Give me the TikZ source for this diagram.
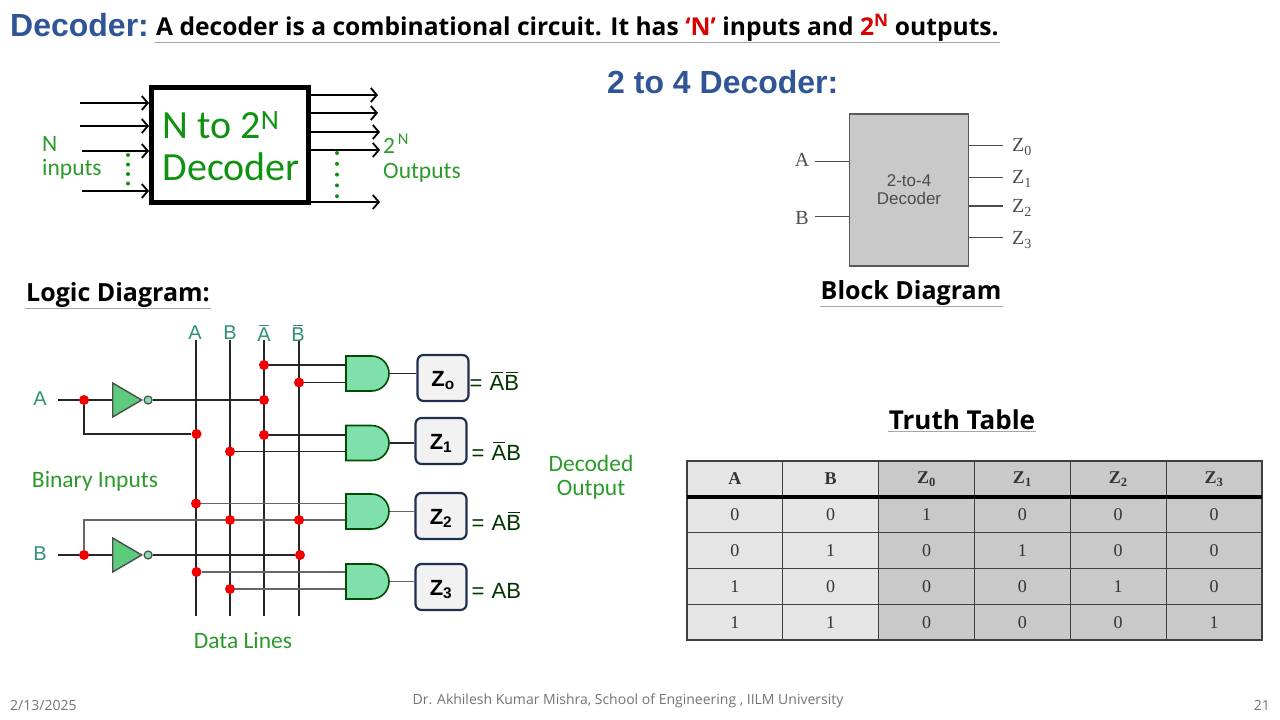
\documentclass[tikz,border=0pt]{standalone}
\usepackage{xcolor}
\usepackage{fontspec}
\setmainfont{Liberation Sans}
\newfontfamily\capfont{Open Sans}
\newfontfamily\footfont{Open Sans}
\newfontfamily\serfont{Liberation Serif}
\newfontfamily\greenfont{Carlito}
\usetikzlibrary{positioning,arrows.meta,backgrounds,shapes.misc,shapes.geometric}
\definecolor{headblue}{HTML}{2F5597}
\definecolor{leafgreen}{HTML}{0F920F}
\definecolor{labelgreen}{HTML}{2A9A2A}
\definecolor{tealtext}{HTML}{2F8F78}
\definecolor{gatefill}{HTML}{7FE0AC}
\definecolor{invfill}{HTML}{5CCB7C}
\definecolor{boxedge}{HTML}{1F2F4F}
\newcommand{\fsz}[1]{\fontsize{#1}{#1}\selectfont}
\newcommand{\barred}[1]{\sbox0{#1}\makebox[\wd0]{\rlap{\kern.1\wd0\rule[1.1\ht0]{.8\wd0}{.07em}}\usebox0}}
\tikzset{
  wire/.style={draw=black!85, line width=1.4pt},
  rail/.style={draw=black!85, line width=2.2pt},
  junction/.style={circle, fill=red!95!black, inner sep=0pt, minimum size=10pt},
  andgate/.style={rounded rectangle, rounded rectangle left arc=none, draw=black!70!green, line width=1.6pt, fill=gatefill, minimum width=43pt, minimum height=35pt, inner sep=0pt},
  invgate/.style={isosceles triangle, isosceles triangle stretches, shape border rotate=0, draw=black!70, line width=1.4pt, fill=invfill, minimum width=34pt, minimum height=29pt, inner sep=0pt, anchor=west},
  invdot/.style={circle, draw=black!70, line width=1.2pt, fill=gatefill, minimum size=8pt, inner sep=0pt},
  zbox/.style={draw=boxedge, line width=2.2pt, fill=black!5, rounded corners=6pt, minimum width=51pt, text height=16pt, text depth=0pt, font=\fsz{22}\bfseries},
  eqlabel/.style={anchor=west, font=\fsz{22}, text=black!80!green},
  toptag/.style={text=tealtext, font=\fsz{20}},
  greentext/.style={text=labelgreen, font=\greenfont\fsz{23.5}, align=center},
  barb/.style={line width=1.8pt, -{Straight Barb[length=6pt,width=14pt]}},
  dotline/.style={draw=leafgreen, line width=4pt, line cap=round, dash pattern=on .01pt off 9.5pt},
  heading/.style={text=headblue, font=\bfseries, inner sep=0pt},
  caption/.style={font=\capfont\bfseries\fsz{25}, inner sep=1pt},
  shelf/.style={draw=black!35, line width=1.2pt},
  lightcell/.style={draw=black!75, line width=1.2pt, fill=black!10, minimum width=95.83pt, minimum height=35.75pt, inner sep=0pt, outer sep=0pt, font=\serfont\fsz{18}, text=black!80},
  darkcell/.style={lightcell, fill=black!21},
  headcell/.style={minimum height=36pt, font=\serfont\bfseries\fsz{18}},
  foot/.style={text=black!55, font=\footfont\fsz{14}, inner sep=0pt},
  stub/.style={draw=black!70, line width=1.1pt},
  pinlabel/.style={text=black!70, font=\serfont\fsz{20}, inner sep=0pt}
}
\begin{document}
\begin{tikzpicture}[x=1pt,y=-1pt]
  \useasboundingbox (0,0) rectangle (1280,720);
  % titles
  \node[heading, anchor=west, font=\bfseries\fsz{32}] (title) at (10,25) {Decoder:};
  \node[caption, anchor=west, font=\capfont\bfseries\fsz{24.6}] (intro) at (155,28) {A decoder is a combinational circuit. It has \textcolor{red!85!black}{‘N’} inputs and \textcolor{red!85!black}{2\textsuperscript{N}} outputs.};
  \draw[shelf] (intro.south west) -- (intro.south east);
  \node[heading, anchor=west, font=\bfseries\fsz{32}] (subtitle) at (607,82) {2 to 4 Decoder:};

  % general decoder
  \node[draw, line width=5pt, minimum width=157pt, minimum height=115pt, inner sep=0pt] (gen) at (230,145) {};
  \node[text=leafgreen, font=\greenfont\fsz{40}, align=left, anchor=west] (gentext) at (159,146.5) {N to 2\textsuperscript{N}\\[2pt]Decoder};
  \coordinate (i1) at (80,103);
  \coordinate (i2) at (80,126);
  \coordinate (i3) at (82,151);
  \coordinate (i4) at (82,191);
  \coordinate (o1) at (378,95);
  \coordinate (o2) at (378,113);
  \coordinate (o3) at (380,132);
  \coordinate (o4) at (380,150);
  \coordinate (o5) at (380,202);
  \draw[barb] (i1) -- (i1 -| gen.west);
  \draw[barb] (i2) -- (i2 -| gen.west);
  \draw[barb] (i3) -- (i3 -| gen.west);
  \draw[barb] (i4) -- (i4 -| gen.west);
  \draw[barb] (o1 -| gen.east) -- (o1);
  \draw[barb] (o2 -| gen.east) -- (o2);
  \draw[barb] (o3 -| gen.east) -- (o3);
  \draw[barb] (o4 -| gen.east) -- (o4);
  \draw[barb] (o5 -| gen.east) -- (o5);
  \coordinate (d1) at (128,155);
  \coordinate (d2) at (128,184);
  \coordinate (d3) at (337,153);
  \coordinate (d4) at (337,197);
  \draw[dotline] (d1) -- (d2);
  \draw[dotline, dash pattern=on .01pt off 10.8pt] (d3) -- (d4);
  \node[greentext, align=left, anchor=west, inner sep=0pt] (ninputs) at (42,158) {N\\[1pt]inputs};
  \node[greentext, align=left, anchor=west, inner sep=0pt] (noutputs) at (383,158) {2\textsuperscript{\,N}\\[1pt]Outputs};

  % block diagram
  \node[draw=black!65, line width=1.2pt, fill=black!21, minimum width=119pt, minimum height=152pt, inner sep=0pt, font=\fsz{17}, text=black!70, align=center] (block) at (909,190) {2-to-4\\[1pt]Decoder};
  \node[pinlabel] (pa) at (802,160) {A};
  \node[pinlabel] (pb) at (802,218) {B};
  \coordinate (pa1) at (815,161.5);
  \coordinate (pb1) at (815,216.5);
  \draw[stub] (pa1) -- (pa1 -| block.west);
  \draw[stub] (pb1) -- (pb1 -| block.west);
  \node[pinlabel, anchor=west] (z0) at (1012,147) {Z\textsubscript{0}};
  \node[pinlabel, anchor=west] (z1) at (1012,179) {Z\textsubscript{1}};
  \node[pinlabel, anchor=west] (z2) at (1012,208) {Z\textsubscript{2}};
  \node[pinlabel, anchor=west] (z3) at (1012,240) {Z\textsubscript{3}};
  \coordinate (z0s) at (1003,145.5);
  \coordinate (z1s) at (1003,177.5);
  \coordinate (z2s) at (1003,206);
  \coordinate (z3s) at (1003,237.5);
  \draw[stub] (z0s -| block.east) -- (z0s);
  \draw[stub] (z1s -| block.east) -- (z1s);
  \draw[stub] (z2s -| block.east) -- (z2s);
  \draw[stub] (z3s -| block.east) -- (z3s);
  \node[caption] (blockcap) at (911,293) {Block Diagram};
  \draw[shelf] (blockcap.south west) -- (blockcap.south east);

  % logic diagram
  \node[caption] (logiccap) at (118,295) {Logic Diagram:};
  \draw[shelf] (logiccap.south west) -- (logiccap.south east);
  \node[toptag] (ta) at (195,333) {A};
  \node[toptag] (tb) at (230,333) {B};
  \node[toptag] (tc) at (264,333) {\barred{A}};
  \node[toptag] (td) at (298,333) {\barred{B}};
  \node[toptag] (ina) at (40,399) {A};
  \node[toptag] (inb) at (40,554) {B};
  \node[greentext] (bin) at (95,481) {Binary Inputs};
  \node[greentext] (lines) at (243,640) {Data Lines};
  \node[greentext] (dec) at (591,477) {Decoded\\[1pt]Output};

  \node[invgate] (inva) at (112,400) {};
  \node[invgate] (invb) at (112,555) {};
  \node[invdot, right=0pt of inva.apex] (ba) {};
  \node[invdot, right=0pt of invb.apex] (bb) {};
  \node[andgate] (g0) at (367.5,373.5) {};
  \node[andgate] (g1) at (367.5,443) {};
  \node[andgate] (g2) at (367.5,511.5) {};
  \node[andgate] (g3) at (367.5,581.5) {};
  \node[zbox, minimum height=46pt] (b0) at (443,378) {Z\textsubscript{o}};
  \node[zbox, minimum height=46pt] (b1) at (441,441) {Z\textsubscript{1}};
  \node[zbox, minimum height=46pt] (b2) at (441,516) {Z\textsubscript{2}};
  \node[zbox, minimum height=46pt] (b3) at (441,587) {Z\textsubscript{3}};
  \node[eqlabel] (e0) at (466,381) {=\,\,\barred{A}\barred{B}};
  \node[eqlabel] (e1) at (468,451) {=\,\,\barred{A}B};
  \node[eqlabel] (e2) at (468,521) {=\,\,A\barred{B}};
  \node[eqlabel] (e3) at (468,591) {=\,\,AB};

  \node[junction] (sa) at (84,400) {};
  \node[junction] (sb) at (84,555) {};
  \node[junction] (j1) at (264,365) {};
  \node[junction] (j2) at (299,382.5) {};
  \node[junction] (j3) at (264,400) {};
  \node[junction] (j4) at (196.5,434) {};
  \node[junction] (j5) at (264,435) {};
  \node[junction] (j6) at (230,451.5) {};
  \node[junction] (j7) at (196,503.5) {};
  \node[junction] (j8) at (230,520) {};
  \node[junction] (j9) at (299,520) {};
  \node[junction] (j10) at (300,555) {};
  \node[junction] (j11) at (196.5,572) {};
  \node[junction] (j12) at (230,589) {};

  \begin{scope}[on background layer]
    \coordinate (ra) at (196,340);
    \coordinate (rb) at (230,340);
    \coordinate (rc) at (264,340);
    \coordinate (rd) at (299,340);
    \coordinate (ea) at (196,616);
    \coordinate (eb) at (230,616);
    \coordinate (ec) at (264,616);
    \coordinate (ed) at (299,616);
    \coordinate (sta) at (58,400);
    \coordinate (stb) at (58,555);
    \draw[rail] (ra) -- (ea);
    \draw[rail] (rb) -- (eb);
    \draw[rail] (rc) -- (ec);
    \draw[rail] (rd) -- (ed);
    \draw[wire] (sta) -- (inva.west);
    \draw[wire] (stb) -- (invb.west);
    \draw[wire] (ba) -- (j3);
    \draw[wire] (bb) -- (j10);
    \draw[wire] (sa) |- (j4);
    \draw[wire, draw=black!60] (sb) |- (j8);
    \draw[wire] (j1) -- (j1 -| g0.west);
    \draw[wire] (j2) -- (j2 -| g0.west);
    \draw[wire] (j5) -- (j5 -| g1.west);
    \draw[wire] (j6) -- (j6 -| g1.west);
    \draw[wire, draw=black!60] (j7) -- (j7 -| g2.west);
    \draw[wire, draw=black!60] (j8) -- (j8 -| g2.west);
    \draw[wire, draw=black!60] (j11) -- (j11 -| g3.west);
    \draw[wire, draw=black!60] (j12) -- (j12 -| g3.west);
    \draw[wire] (g0.east) -- (g0.east -| b0.west);
    \draw[wire] (g1.east) -- (g1.east -| b1.west);
    \draw[wire, draw=black!60] (g2.east) -- (g2.east -| b2.west);
    \draw[wire, draw=black!60] (g3.east) -- (g3.east -| b3.west);
  \end{scope}

  % truth table
  \node[caption, font=\capfont\bfseries\fsz{26}] (tablecap) at (962,420) {Truth Table};
  \draw[shelf] (tablecap.south west) -- (tablecap.south east);
  \node[lightcell, headcell] (h1) at (734.9,479) {A};
  \node[lightcell, headcell, right=0pt of h1] (h2) {B};
  \node[darkcell, headcell, right=0pt of h2] (h3) {Z\textsubscript{0}};
  \node[darkcell, headcell, right=0pt of h3] (h4) {Z\textsubscript{1}};
  \node[darkcell, headcell, right=0pt of h4] (h5) {Z\textsubscript{2}};
  \node[darkcell, headcell, right=0pt of h5] (h6) {Z\textsubscript{3}};
  \node[lightcell, below=0pt of h1] (a1) {0};
  \node[lightcell, right=0pt of a1] (a2) {0};
  \node[darkcell, right=0pt of a2] (a3) {1};
  \node[darkcell, right=0pt of a3] (a4) {0};
  \node[darkcell, right=0pt of a4] (a5) {0};
  \node[darkcell, right=0pt of a5] (a6) {0};
  \node[lightcell, below=0pt of a1] (c1) {0};
  \node[lightcell, right=0pt of c1] (c2) {1};
  \node[darkcell, right=0pt of c2] (c3) {0};
  \node[darkcell, right=0pt of c3] (c4) {1};
  \node[darkcell, right=0pt of c4] (c5) {0};
  \node[darkcell, right=0pt of c5] (c6) {0};
  \node[lightcell, below=0pt of c1] (m1) {1};
  \node[lightcell, right=0pt of m1] (m2) {0};
  \node[darkcell, right=0pt of m2] (m3) {0};
  \node[darkcell, right=0pt of m3] (m4) {0};
  \node[darkcell, right=0pt of m4] (m5) {1};
  \node[darkcell, right=0pt of m5] (m6) {0};
  \node[lightcell, below=0pt of m1] (n1) {1};
  \node[lightcell, right=0pt of n1] (n2) {1};
  \node[darkcell, right=0pt of n2] (n3) {0};
  \node[darkcell, right=0pt of n3] (n4) {0};
  \node[darkcell, right=0pt of n4] (n5) {0};
  \node[darkcell, right=0pt of n5] (n6) {1};
  \draw[line width=4.5pt] (h1.south west) -- (h6.south east);

  % footer
  \node[foot, anchor=west] (date) at (10,705) {2/13/2025};
  \node[foot] (author) at (628,701) {Dr. Akhilesh Kumar Mishra, School of Engineering , IILM University};
  \node[foot, anchor=east] (page) at (1270,705) {21};
\end{tikzpicture}
\end{document}
